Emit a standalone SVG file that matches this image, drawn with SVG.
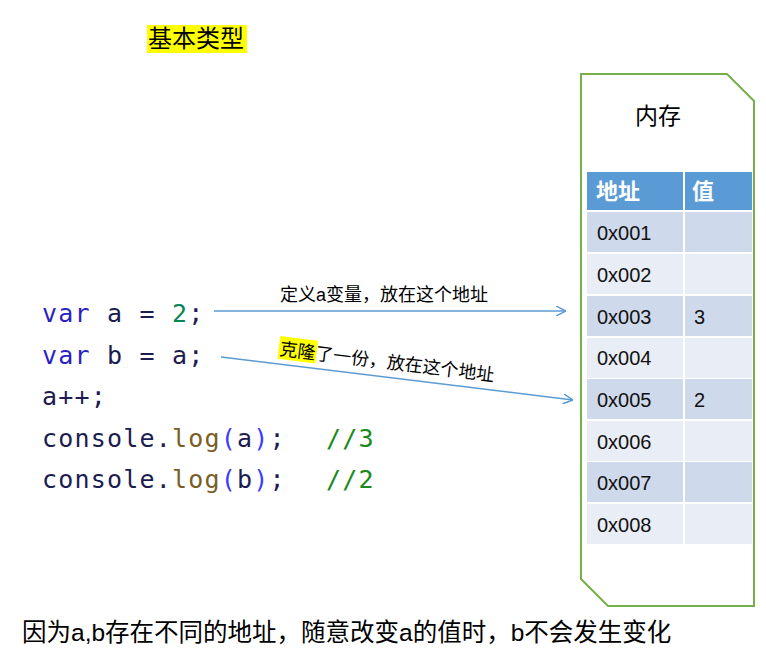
<svg xmlns="http://www.w3.org/2000/svg" width="766" height="661" viewBox="0 0 766 661">
<style>
.cjk{font-family:"Liberation Sans","Noto Sans CJK SC",sans-serif}
.code{font-family:"DejaVu Sans Mono",monospace;font-size:25px;letter-spacing:1.2px;white-space:pre}
.cell{font-family:"Liberation Sans","Noto Sans CJK SC",sans-serif;font-size:20px;fill:#111}
.odd{fill:#cfd9ec}.even{fill:#e9edf6}
.conn{stroke:#5b9bd5;stroke-width:1.6;fill:none;marker-end:url(#ah)}
</style>
<defs><marker id="ah" viewBox="0 0 10 10" refX="10" refY="5" markerWidth="10" markerHeight="10" markerUnits="userSpaceOnUse" orient="auto"><path d="M0,0 L10,5 L0,10" fill="none" stroke="#5b9bd5" stroke-width="1.4"/></marker></defs>
<rect width="766" height="661" fill="#fff"/>
<g id="title"><rect x="147" y="25" width="100" height="28" fill="#ffff00"/><text x="148" y="47" class="cjk" font-size="24">基本类型</text></g>
<g id="memory">
<polygon points="581,74 727,74 754,101 754,606 608,606 581,579" fill="#fff" stroke="#77b04a" stroke-width="2"/>
<text x="658" y="124" class="cjk" font-size="23" text-anchor="middle">内存</text>
<rect x="587" y="172" width="96" height="38" fill="#5b9bd5"/><rect x="685" y="172" width="67" height="38" fill="#5b9bd5"/>
<text x="596" y="199" class="cjk" font-size="22" font-weight="bold" fill="#fff">地址</text><text x="692" y="199" class="cjk" font-size="22" font-weight="bold" fill="#fff">值</text>
<g>
<rect x="587" y="212" width="96" height="40" class="odd"/><rect x="685" y="212" width="67" height="40" class="odd"/>
<rect x="587" y="254" width="96" height="40" class="even"/><rect x="685" y="254" width="67" height="40" class="even"/>
<rect x="587" y="296" width="96" height="40" class="odd"/><rect x="685" y="296" width="67" height="40" class="odd"/>
<rect x="587" y="338" width="96" height="40" class="even"/><rect x="685" y="338" width="67" height="40" class="even"/>
<rect x="587" y="379" width="96" height="40" class="odd"/><rect x="685" y="379" width="67" height="40" class="odd"/>
<rect x="587" y="421" width="96" height="40" class="even"/><rect x="685" y="421" width="67" height="40" class="even"/>
<rect x="587" y="462" width="96" height="40" class="odd"/><rect x="685" y="462" width="67" height="40" class="odd"/>
<rect x="587" y="504" width="96" height="40" class="even"/><rect x="685" y="504" width="67" height="40" class="even"/>
</g>
<text x="597" y="240" class="cell">0x001</text>
<text x="597" y="282" class="cell">0x002</text>
<text x="597" y="324" class="cell">0x003</text><text x="694" y="324" class="cell">3</text>
<text x="597" y="365" class="cell">0x004</text>
<text x="597" y="407" class="cell">0x005</text><text x="694" y="407" class="cell">2</text>
<text x="597" y="449" class="cell">0x006</text>
<text x="597" y="490" class="cell">0x007</text>
<text x="597" y="532" class="cell">0x008</text>
</g>
<g id="code" class="code">
<text x="42" y="322"><tspan fill="#2b1fc4">var</tspan><tspan fill="#1c1c50"> a = </tspan><tspan fill="#098658">2</tspan><tspan fill="#1c1c50">;</tspan></text>
<text x="42" y="364"><tspan fill="#2b1fc4">var</tspan><tspan fill="#1c1c50"> b = a;</tspan></text>
<text x="42" y="405" fill="#1c1c50">a++;</text>
<text x="42" y="447"><tspan fill="#1c1c50">console.</tspan><tspan fill="#795e26">log</tspan><tspan fill="#3b3bff">(</tspan><tspan fill="#1c1c50">a</tspan><tspan fill="#3b3bff">)</tspan><tspan fill="#1c1c50">;</tspan><tspan x="326" fill="#1a8a1a">//3</tspan></text>
<text x="42" y="488"><tspan fill="#1c1c50">console.</tspan><tspan fill="#795e26">log</tspan><tspan fill="#3b3bff">(</tspan><tspan fill="#1c1c50">b</tspan><tspan fill="#3b3bff">)</tspan><tspan fill="#1c1c50">;</tspan><tspan x="326" fill="#1a8a1a">//2</tspan></text>
</g>
<g id="connectors">
<line x1="214" y1="311" x2="566" y2="311" class="conn"/>
<line x1="221" y1="357" x2="573" y2="400" class="conn"/>
<text x="280" y="301" class="cjk" font-size="18">定义a变量，放在这个地址</text>
<g transform="translate(279,355) rotate(7)"><rect x="-1" y="-19" width="38" height="23" fill="#ffff00"/><text x="0" y="0" class="cjk" font-size="18">克隆了一份，放在这个地址</text></g>
</g>
<text x="22" y="641" class="cjk" font-size="24.5">因为a,b存在不同的地址，随意改变a的值时，b不会发生变化</text>
</svg>
